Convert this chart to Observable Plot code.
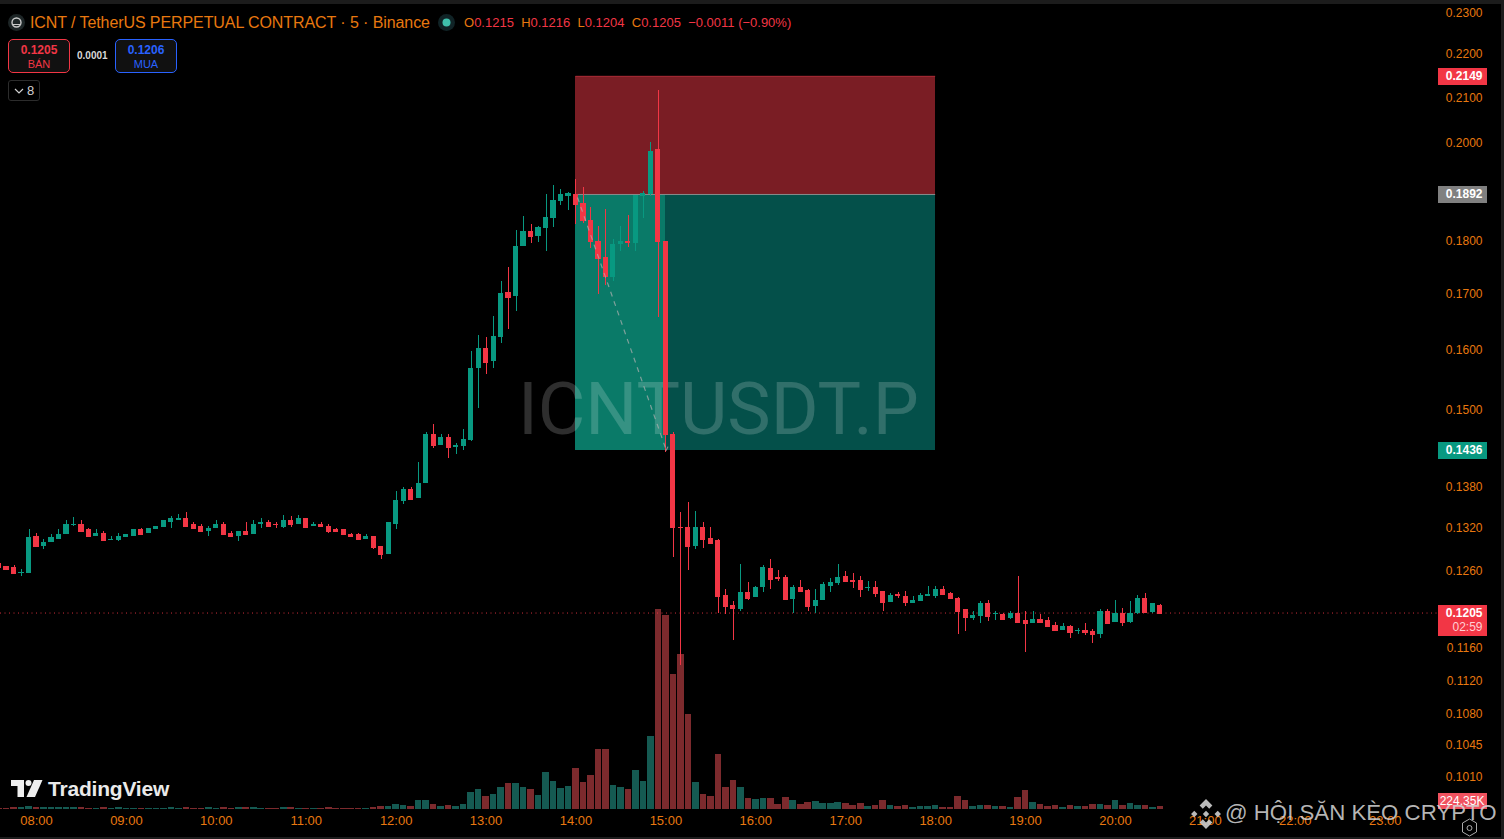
<!DOCTYPE html>
<html>
<head>
<meta charset="utf-8">
<script src="https://cdn.jsdelivr.net/npm/d3@7"></script>
<script src="https://cdn.jsdelivr.net/npm/@observablehq/plot@0.6"></script>
<style>
html,body{margin:0;padding:0;background:#000;overflow:hidden}
#stage{position:relative;width:1504px;height:839px;background:#000;overflow:hidden;font-family:"Liberation Sans",Arial,sans-serif}
#stage>div.plot{position:absolute;left:0;top:0}
#stage svg{display:block;background:transparent!important}
.abs{position:absolute;white-space:nowrap}
.btn{position:absolute;top:39px;width:60px;height:32px;border-radius:5px;background:#111;text-align:center;box-sizing:content-box}
.btn .a{font-size:12px;font-weight:bold;margin-top:3px;line-height:15px}
.btn .b{font-size:11px;line-height:13px;font-weight:500}
</style>
</head>
<body>
<div id="stage">
  <div id="vol" class="plot"></div>
  <div id="main" class="plot"></div>

  <div class="abs" style="left:0;top:0;width:1504px;height:4px;background:#1c1c1c"></div>
  <div class="abs" style="left:1501px;top:0;width:3px;height:839px;background:#1c1c1c"></div>
  <div class="abs" style="left:0;top:837px;width:1504px;height:2px;background:#1c1c1c"></div>

  <svg class="abs" style="left:8px;top:14px" width="17" height="17" viewBox="0 0 17 17"><circle cx="8.5" cy="8.5" r="8.5" fill="#1d2526"/><circle cx="8.5" cy="8.5" r="4.5" fill="none" stroke="#c9c9c9" stroke-width="1.4"/><path d="M5 10.5h7" stroke="#c9c9c9"/></svg>
  <div class="abs" style="left:30px;top:13px;font-size:16px;line-height:19px;color:#e8780f;letter-spacing:-.085px">ICNT / TetherUS PERPETUAL CONTRACT · 5 · Binance</div>
  <svg class="abs" style="left:438px;top:14px" width="17" height="17"><circle cx="8.5" cy="8.5" r="8.5" fill="#102326"/><circle cx="8.5" cy="8.5" r="4" fill="#3fc1ad"/></svg>
  <div class="abs" style="left:464px;top:15px;font-size:13px;line-height:16px;color:#f23645"><span style="color:#e8780f">O</span>0.1215&nbsp; <span style="color:#e8780f">H</span>0.1216&nbsp; <span style="color:#e8780f">L</span>0.1204&nbsp; <span style="color:#e8780f">C</span>0.1205&nbsp; −0.0011 (−0.90%)</div>

  <div class="btn" style="left:8px;border:1px solid #f23645;color:#f23645"><div class="a">0.1205</div><div class="b">BÁN</div></div>
  <div class="abs" style="left:77px;top:49px;font-size:10px;font-weight:bold;line-height:13px;color:#d8d8d8">0.0001</div>
  <div class="btn" style="left:115px;border:1px solid #2962ff;color:#2962ff"><div class="a">0.1206</div><div class="b">MUA</div></div>
  <div class="abs" style="left:8px;top:80px;width:30px;height:19px;border:1px solid #2c2c2c;border-radius:3px;color:#d0d0d0;font-size:13px;line-height:19px"><svg width="10" height="8" style="position:absolute;left:5px;top:6px"><path d="M1 2l4 4 4-4" fill="none" stroke="#d0d0d0" stroke-width="1.2"/></svg><span style="position:absolute;left:18px;top:0">8</span></div>

  <svg class="abs" style="left:11px;top:780px" width="32" height="17" viewBox="0 0 32 17"><path d="M0 0h13v17H6.5V6H0z" fill="#eee"/><circle cx="17.5" cy="3" r="3" fill="#eee"/><path d="M23 0h8.5L24 17h-8.5z" fill="#eee"/></svg>
  <div class="abs" style="left:48px;top:776px;font-size:21px;line-height:25px;font-weight:bold;color:#eaeaea;letter-spacing:-.2px">TradingView</div>

  <svg class="abs" style="left:1190px;top:798px;opacity:.9" width="32" height="32" viewBox="0 0 30 30"><g fill="#cfcfcf"><path d="M15 1l6 6-3 3-3-3-3 3-3-3z"/><path d="M15 29l6-6-3-3-3 3-3-3-3 3z"/><path d="M4 12l3 3-3 3-3-3z"/><path d="M26 12l3 3-3 3-3-3z"/><path d="M15 12l3 3-3 3-3-3z"/></g></svg>
  <div class="abs" style="left:1225px;top:798px;font-size:22.25px;line-height:30px;color:rgba(215,215,215,.85)">@ HỘI SĂN KÈO CRYPTO</div>
  <svg class="abs" style="left:1461px;top:818px" width="17" height="20" viewBox="0 0 17 20"><path d="M8.5 1l7 4v9l-7 4-7-4V5z" fill="none" stroke="#aaa"/><circle cx="8.5" cy="10" r="2.5" fill="none" stroke="#aaa"/></svg>
</div>
<script>
// Candle series: 5-minute bars, first bar 07:35
const opens = [
.1271,.1267,.1265,.1258,.1258,.1308,.1295,.1300,.1305,.1311,
.1325,.1326,.1318,.1308,.1313,.1303,.1303,.1307,.1309,.1319,
.1313,.1319,.1322,.1329,.1332,.1334,.1325,.1323,.1316,.1320,
.1326,.1313,.1309,.1316,.1312,.1325,.1328,.1326,.1322,.1332,
.1326,.1334,.1323,.1325,.1323,.1318,.1318,.1312,.1311,.1305,
.1308,.1294,.1284,.1325,.1359,.1376,.1364,.1386,.1461,.1444,
.1456,.1441,.1442,.1452,.1568,.1602,.1580,.1622,.1702,.1695,
.1789,.1818,.1808,.1824,.1843,.1878,.1888,.1892,.1874,.1840,
.1798,.1768,.1730,.1793,.1798,.1795,.1888,.1892,.1985,.1798,
.1460,.1322,.1321,.1295,.1321,.1306,.1303,.1228,.1215,.1210,
.1232,.1226,.1238,.1264,.1252,.1252,.1223,.1239,.1235,.1213,
.1221,.1240,.1244,.1254,.1248,.1248,.1237,.1239,.1233,.1219,
.1229,.1227,.1217,.1220,.1227,.1227,.1236,.1230,.1224,.1209,
.1198,.1201,.1217,.1204,.1203,.1198,.1205,.1195,.1191,.1197,
.1195,.1189,.1183,.1187,.1181,.1183,.1181,.1178,.1207,.1193,
.1204,.1193,.1204,.1224,.1206,.1215];
const highs = [
.1271,.1267,.1269,.1263,.1319,.1313,.1304,.1312,.1318,.1331,
.1335,.1332,.1320,.1319,.1315,.1309,.1313,.1312,.1319,.1320,
.1320,.1323,.1331,.1337,.1340,.1343,.1328,.1325,.1323,.1331,
.1328,.1315,.1316,.1328,.1332,.1334,.1331,.1328,.1338,.1337,
.1338,.1334,.1329,.1328,.1325,.1320,.1318,.1313,.1313,.1311,
.1309,.1294,.1328,.1373,.1379,.1379,.1417,.1464,.1477,.1461,
.1460,.1447,.1468,.1597,.1626,.1622,.1658,.1723,.1749,.1820,
.1848,.1831,.1828,.1892,.1911,.1903,.1896,.1923,.1907,.1866,
.1828,.1862,.1802,.1828,.1850,.1890,.1898,.2000,.2117,.1798,
.1464,.1343,.1358,.1345,.1329,.1322,.1305,.1236,.1220,.1270,
.1245,.1240,.1269,.1276,.1262,.1255,.1241,.1248,.1236,.1236,
.1245,.1251,.1270,.1260,.1257,.1253,.1246,.1246,.1233,.1230,
.1232,.1233,.1227,.1230,.1240,.1240,.1240,.1232,.1225,.1210,
.1207,.1220,.1221,.1207,.1205,.1207,.1253,.1207,.1207,.1203,
.1199,.1193,.1191,.1189,.1185,.1191,.1184,.1210,.1210,.1221,
.1211,.1220,.1228,.1230,.1217,.1216];
const lows = [
.1266,.1263,.1256,.1253,.1258,.1294,.1291,.1300,.1304,.1311,
.1323,.1316,.1308,.1308,.1303,.1303,.1301,.1307,.1309,.1312,
.1313,.1319,.1322,.1320,.1331,.1323,.1318,.1315,.1309,.1320,
.1311,.1309,.1301,.1312,.1312,.1320,.1323,.1320,.1320,.1322,
.1325,.1322,.1323,.1323,.1313,.1316,.1311,.1308,.1304,.1304,
.1290,.1276,.1284,.1318,.1354,.1362,.1364,.1385,.1439,.1444,
.1424,.1429,.1435,.1450,.1503,.1559,.1568,.1612,.1635,.1668,
.1789,.1794,.1797,.1779,.1825,.1870,.1859,.1832,.1834,.1785,
.1699,.1715,.1723,.1780,.1787,.1780,.1844,.1888,.1657,.1432,
.1280,.1139,.1262,.1291,.1292,.1298,.1204,.1203,.1170,.1207,
.1222,.1226,.1232,.1236,.1247,.1223,.1205,.1232,.1207,.1204,
.1221,.1232,.1241,.1247,.1237,.1225,.1233,.1226,.1207,.1219,
.1224,.1213,.1217,.1220,.1227,.1224,.1228,.1223,.1178,.1181,
.1195,.1192,.1194,.1195,.1195,.1197,.1193,.1155,.1191,.1191,
.1187,.1182,.1182,.1173,.1178,.1176,.1166,.1172,.1192,.1193,
.1188,.1192,.1203,.1204,.1204,.1204];
const closes = [
.1266,.1263,.1257,.1259,.1307,.1295,.1300,.1307,.1312,.1326,
.1326,.1316,.1308,.1313,.1303,.1304,.1308,.1311,.1319,.1312,
.1320,.1323,.1331,.1334,.1334,.1323,.1320,.1316,.1320,.1325,
.1312,.1309,.1316,.1312,.1325,.1328,.1323,.1325,.1332,.1326,
.1334,.1322,.1325,.1323,.1316,.1316,.1311,.1309,.1305,.1308,
.1293,.1284,.1328,.1360,.1376,.1362,.1386,.1461,.1444,.1456,
.1441,.1443,.1453,.1568,.1602,.1578,.1624,.1700,.1693,.1789,
.1818,.1808,.1826,.1846,.1880,.1892,.1894,.1872,.1840,.1798,
.1766,.1732,.1793,.1798,.1796,.1890,.1894,.1982,.1798,.1460,
.1321,.1321,.1295,.1321,.1305,.1299,.1227,.1214,.1211,.1232,
.1224,.1239,.1265,.1250,.1251,.1223,.1238,.1233,.1213,.1222,
.1243,.1245,.1252,.1247,.1247,.1236,.1239,.1230,.1219,.1228,
.1228,.1219,.1221,.1228,.1229,.1236,.1229,.1224,.1207,.1199,
.1202,.1217,.1201,.1205,.1197,.1205,.1193,.1191,.1197,.1193,
.1187,.1183,.1187,.1180,.1182,.1180,.1178,.1207,.1192,.1204,
.1193,.1205,.1224,.1206,.1217,.1205];
// Volume, thousands of contracts
const volumes = [
100,100,150,150,300,150,150,150,150,150,
150,150,100,70,200,80,170,100,100,100,
100,100,100,150,100,200,100,100,200,100,
200,100,200,200,200,100,100,100,200,200,
100,100,100,100,200,100,100,100,100,100,
200,300,300,500,400,300,900,900,500,300,
400,300,500,1700,2000,1300,1500,2200,2600,2600,
2200,2000,1400,3700,2800,2100,2300,4100,2700,3400,
6000,6000,2400,2200,2000,3900,2800,7300,20000,19400,
13500,15500,9500,2700,1500,1300,5500,2200,2900,2200,
1100,1000,1100,1100,500,1200,900,500,700,800,
600,600,700,600,400,600,300,400,900,400,
300,400,200,300,300,400,200,200,1300,900,
300,400,400,300,300,200,1200,1900,700,500,
300,400,200,400,300,300,500,500,400,900,
400,600,400,400,200,224.35];

const priceTicks = [.23,.22,.21,.20,.18,.17,.16,.15,.138,.132,.126,.116,.112,.108,.1045,.101];
const timeTickHours = [8,9,10,11,12,13,14,15,16,17,18,19,20,21,22,23];

const stopPrice = .2149, entryPrice = .1892, targetPrice = .1436, lastPrice = .1205;

const UP = "#089981", DOWN = "#f23645", ORANGE = "#e8780f";
const MIN = 60000;
const T = (h, m = 0) => Date.UTC(2025, 0, 1, h, m);
const D = ms => new Date(ms);
const firstBar = T(7, 35);

const bars = opens.map((o, i) => ({
  t: firstBar + i * 5 * MIN, o, h: highs[i], l: lows[i], c: closes[i], v: volumes[i],
  up: closes[i] >= o
}));

const xOpts = {type: "utc", domain: [D(T(8) - 24.02 * MIN), D(T(8) + 979.6 * MIN)], range: [0, 1504]};
const base = {width: 1504, height: 839, marginTop: 0, marginRight: 0, marginBottom: 0, marginLeft: 0, style: {background: "transparent"}};

const volPlot = Plot.plot({
  ...base,
  x: {...xOpts, axis: null},
  y: {domain: [0, 20000], range: [808.5, 608.5], axis: null},
  marks: [
    Plot.rect(bars, {
      x1: d => D(d.t - 2.2 * MIN), x2: d => D(d.t + 2.2 * MIN),
      y1: 0, y2: "v",
      fill: d => d.up ? "#155a52" : "#7c2a2d",
      shapeRendering: "crispEdges"
    })
  ]
});
document.getElementById("vol").append(volPlot);

const tagLeft = D(T(8) + 935.5 * MIN), tagRight = D(T(8) + 968.2 * MIN);
const tagRule = (price, color, w, dy = 0) => Plot.ruleY([price], {x1: tagLeft, x2: tagRight, stroke: color, strokeWidth: w, dy, shapeRendering: "crispEdges"});
const tagText = (price, txt, fill, dy = 0, weight = "bold") => Plot.text([price], {y: d => d, frameAnchor: "right", dx: -22, text: () => txt, fill, fontSize: 12, fontWeight: weight, textAnchor: "end", dy, fontFamily: "Liberation Sans"});

const boxStart = T(14), boxExit = T(15, 0.6), boxEnd = T(18, 0.6);

const mainPlot = Plot.plot({
  ...base,
  x: xOpts,
  y: {type: "log", domain: [.0944, .2332], range: [839, 0]},
  style: {background: "transparent", fontFamily: "Liberation Sans"},
  marks: [
    // position tool
    Plot.rect([0], {x1: D(boxStart), x2: D(boxEnd), y1: entryPrice, y2: stopPrice, fill: "#7a1d24", shapeRendering: "crispEdges"}),
    Plot.rect([0], {x1: D(boxStart), x2: D(boxEnd), y1: targetPrice - .0001, y2: entryPrice, fill: "#04504a", shapeRendering: "crispEdges"}),
    Plot.rect([0], {x1: D(boxStart), x2: D(boxExit), y1: targetPrice - .0001, y2: entryPrice, fill: "#0a7a68", shapeRendering: "crispEdges"}),
    Plot.ruleY([stopPrice], {x1: D(boxStart), x2: D(boxEnd), stroke: "#a82a35", strokeWidth: 1}),
    Plot.ruleY([entryPrice], {x1: D(boxStart), x2: D(boxEnd), stroke: "#8a8a8a", strokeWidth: 1}),
    // symbol watermark
    Plot.text(["ICNTUSDT.P"], {
      x: D(T(8) + 455 * MIN), y: .1498, text: d => d,
      fontSize: 73, fill: "#fff", fillOpacity: .18, fontFamily: "Roboto", fontWeight: 400, textAnchor: "middle"
    }),
    // last price line
    Plot.ruleY([lastPrice], {x1: xOpts.domain[0], x2: tagLeft, stroke: DOWN, strokeWidth: 1, strokeDasharray: "1,3.5", strokeOpacity: .85}),
    // candles
    Plot.ruleX(bars, {x: d => D(d.t), y1: "l", y2: "h", stroke: d => d.up ? UP : DOWN, strokeWidth: 1, shapeRendering: "crispEdges"}),
    Plot.rect(bars, {
      x1: d => D(d.t - 1.7 * MIN), x2: d => D(d.t + 1.7 * MIN), y1: "o", y2: "c",
      fill: d => d.up ? UP : DOWN, shapeRendering: "crispEdges"
    }),
    Plot.ruleY(bars, {
      x1: d => D(d.t - 1.7 * MIN), x2: d => D(d.t + 1.7 * MIN), y: "c",
      stroke: d => d.up ? UP : DOWN, strokeWidth: 1, shapeRendering: "crispEdges"
    }),
    // trade path
    Plot.link([0], {
      x1: D(T(14, 1)), y1: entryPrice - .0006, x2: D(T(15, 0)), y2: targetPrice + .0002,
      stroke: "#b0b0b0", strokeOpacity: .7, strokeWidth: 1.2, strokeDasharray: "5,5", markerEnd: "arrow"
    }),
    // axes
    Plot.axisY(priceTicks, {anchor: "right", tickSize: 0, tickPadding: -22, textAnchor: "end", tickFormat: d3.format(".4f"), color: ORANGE, fill: ORANGE, fontSize: 12, label: null, fontFamily: "Liberation Sans"}),
    Plot.axisX(timeTickHours.map(h => D(T(h))), {anchor: "bottom", tickSize: 0, tickPadding: -24, tickFormat: d3.utcFormat("%H:%M"), fill: ORANGE, fontSize: 13, label: null, fontFamily: "Liberation Sans"}),
    // price tags
    tagRule(stopPrice, DOWN, 17), tagText(stopPrice, "0.2149", "#fff"),
    tagRule(entryPrice, "#808080", 17), tagText(entryPrice, "0.1892", "#fff"),
    tagRule(targetPrice, UP, 17), tagText(targetPrice, "0.1436", "#fff"),
    tagRule(lastPrice, DOWN, 31, 7), tagText(lastPrice, "0.1205", "#fff"), tagText(lastPrice, "02:59", "#ffd0d4", 14, "normal")
  ]
});
document.getElementById("main").append(mainPlot);

// Volume tag on its own scale
const volTag = Plot.plot({
  ...base,
  x: {...xOpts, axis: null},
  y: {domain: [0, 20000], range: [808.5, 608.5], axis: null},
  marks: [
    Plot.ruleY([800], {x1: tagLeft, x2: tagRight, stroke: "#f0525f", strokeWidth: 16, shapeRendering: "crispEdges"}),
    Plot.text(["224.35K"], {x: tagRight, y: 800, dx: -3, text: d => d, fill: "#fff", fontSize: 12, textAnchor: "end", fontFamily: "Liberation Sans"})
  ]
});
const vt = document.createElement("div");
vt.className = "plot";
vt.append(volTag);
document.getElementById("main").after(vt);
</script>
</body>
</html>
